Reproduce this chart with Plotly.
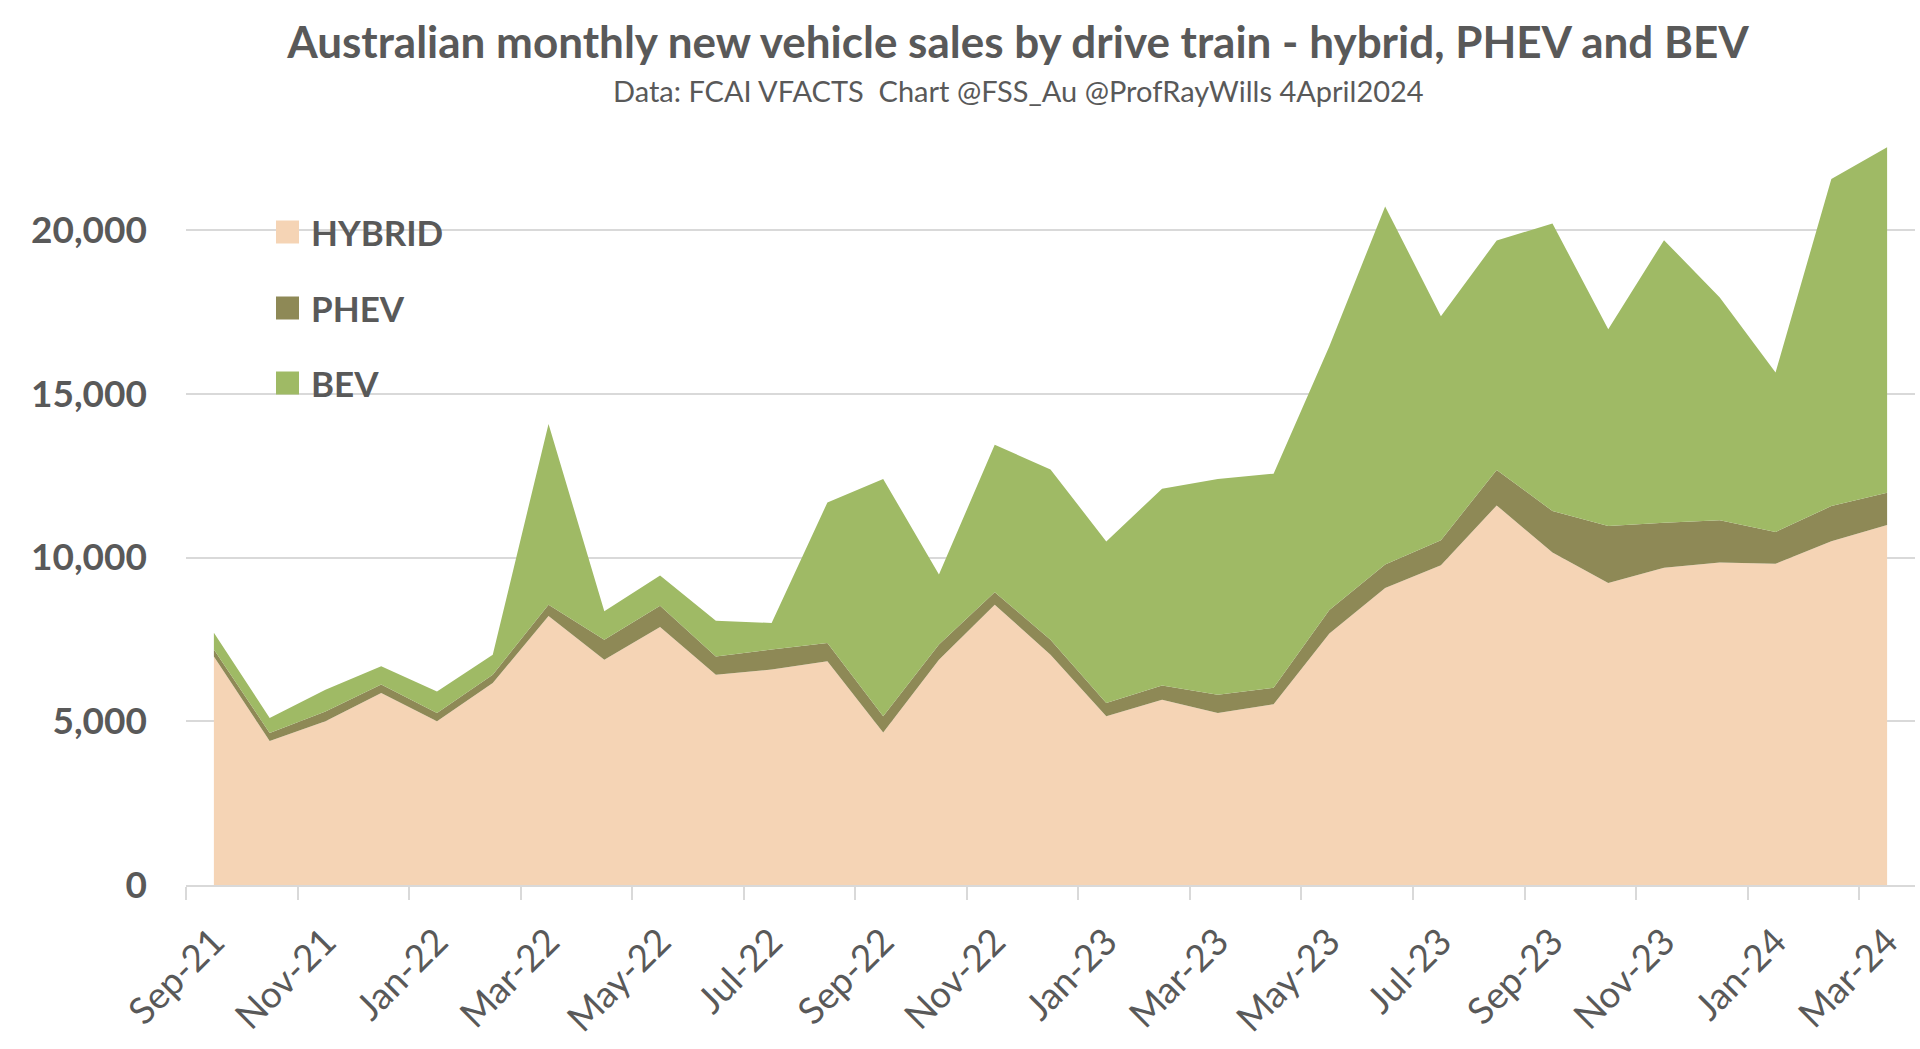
import plotly.graph_objects as go

months = ["Sep-21", "Oct-21", "Nov-21", "Dec-21", "Jan-22", "Feb-22", "Mar-22", "Apr-22",
          "May-22", "Jun-22", "Jul-22", "Aug-22", "Sep-22", "Oct-22", "Nov-22", "Dec-22",
          "Jan-23", "Feb-23", "Mar-23", "Apr-23", "May-23", "Jun-23", "Jul-23", "Aug-23",
          "Sep-23", "Oct-23", "Nov-23", "Dec-23", "Jan-24", "Feb-24", "Mar-24"]

hybrid = [6980, 4400, 5000, 5860, 5000, 6170, 8210, 6880, 7880, 6420, 6580, 6830, 4660, 6880,
          8560, 7030, 5150, 5660, 5250, 5520, 7680, 9070, 9760, 11590, 10150, 9220, 9690,
          9850, 9810, 10500, 10990]
phev = [210, 240, 300, 260, 250, 250, 350, 610, 650, 560, 610, 560, 490, 460, 380, 460, 410,
        430, 560, 500, 720, 720, 770, 1080, 1270, 1740, 1370, 1290, 970, 1070, 990]
bev = [510, 460, 660, 560, 660, 610, 5520, 870, 920, 1090, 810, 4290, 7250, 2140, 4500, 5200,
       4930, 6010, 6590, 6540, 8050, 10930, 6840, 7010, 8780, 6010, 8630, 6800, 4870, 9990,
       10550]

series_names = ["HYBRID", "PHEV", "BEV"]
series_colors = ["#F5D4B5", "#8E8956", "#9FBA65"]
y_ticks = [0, 5000, 10000, 15000, 20000]

title = "<b>Australian monthly new vehicle sales by drive train - hybrid, PHEV and BEV</b>"
subtitle = "Data: FCAI VFACTS\u00a0 Chart @FSS_Au @ProfRayWills 4April2024"

TXT = "#595959"
GRID = "#D9D9D9"
FONT = "Lato"

W, H = 1920, 1049
ML, MR, MT, MB = 186, 5, 99, 164
PW, PH = W - ML - MR, H - MT - MB


def px(xpix):
    return (xpix - ML) / PW


def py(ypix):
    return (H - MB - ypix) / PH


fig = go.Figure()
for name, vals, col in zip(series_names, [hybrid, phev, bev], series_colors):
    fig.add_trace(go.Scatter(
        x=months, y=vals, name=name, stackgroup="one", mode="none",
        fillcolor=col, line=dict(width=0), showlegend=False,
        hovertemplate="%{x}: %{y:,}<extra>" + name + "</extra>",
    ))

# manual legend (square swatches + bold labels)
leg_rows = [232, 308, 383]
for name, col, yy in zip(series_names, series_colors, leg_rows):
    fig.add_shape(type="rect", xref="paper", yref="paper",
                  x0=px(276), x1=px(299), y0=py(yy + 11.5), y1=py(yy - 11.5),
                  fillcolor=col, line=dict(width=0), layer="above")
    fig.add_annotation(xref="paper", yref="paper", x=px(309), y=py(yy),
                       xanchor="left", yanchor="middle", showarrow=False,
                       text="<b>" + name + "</b>",
                       font=dict(family=FONT, size=35, color=TXT))

fig.add_annotation(xref="paper", yref="paper", x=px(1018), y=py(91),
                   xanchor="center", yanchor="middle", showarrow=False,
                   text=subtitle, font=dict(family=FONT, size=29, color=TXT))

fig.update_layout(
    width=W, height=H,
    margin=dict(l=ML, r=MR, t=MT, b=MB),
    paper_bgcolor="white", plot_bgcolor="white",
    title=dict(text=title, x=1018 / W, xanchor="center", xref="container",
               y=1 - 43 / H, yanchor="middle", yref="container",
               font=dict(family=FONT, size=44, color=TXT)),
    font=dict(family=FONT, color=TXT),
    showlegend=False,
    hovermode="x",
)

fig.update_xaxes(
    type="category", tickmode="linear", tick0=0, dtick=2,
    tickson="boundaries", range=[-0.5, len(months) - 0.5],
    showgrid=False, showline=True, linecolor=GRID, linewidth=2,
    ticks="outside", ticklen=13, tickcolor=GRID, tickwidth=2,
    tickangle=-45, ticklabelstandoff=18,
    tickfont=dict(family=FONT, size=37, color=TXT),
)
fig.update_yaxes(
    range=[0, 24000], tickvals=y_ticks, tickformat=",",
    showgrid=True, gridcolor=GRID, gridwidth=2, zeroline=False,
    showline=False, ticks="", ticklabelstandoff=38,
    tickfont=dict(family=FONT, size=37, color=TXT, weight="bold"),
)

fig.write_html("out.html")
